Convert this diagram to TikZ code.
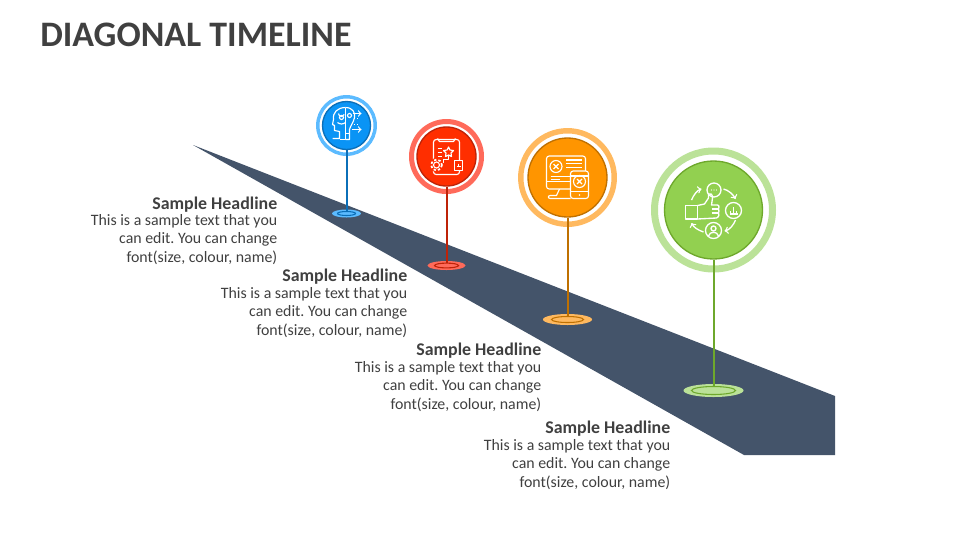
\documentclass[tikz,border=0pt]{standalone}
\usepackage{fontspec}
\setmainfont{Carlito}
\frenchspacing
\usetikzlibrary{shapes.geometric}
\definecolor{road}{HTML}{44546A}
\definecolor{ink}{HTML}{404040}
\definecolor{blueA}{HTML}{0A94F5}\definecolor{blueB}{HTML}{0B6FB8}\definecolor{blueC}{HTML}{5CBBFF}
\definecolor{redA}{HTML}{FF2E00}\definecolor{redB}{HTML}{BE2308}\definecolor{redC}{HTML}{FF6A5A}
\definecolor{orangeA}{HTML}{FF9500}\definecolor{orangeB}{HTML}{BF7000}\definecolor{orangeC}{HTML}{FFB95F}
\definecolor{greenA}{HTML}{92D050}\definecolor{greenB}{HTML}{6EA82C}\definecolor{greenC}{HTML}{BBE298}
\tikzset{
    headline/.style={anchor=east,inner sep=0pt,text=ink,font=\fontsize{13.4}{14}\selectfont\bfseries},
    blurb/.style={anchor=east,inner sep=0pt,text=ink,align=right,font=\fontsize{11.9}{14}\selectfont},
    halo/.style={circle,inner sep=0pt,draw=#1,fill=white},
    hub/.style={circle,inner sep=0pt,line width=1pt,draw=#1B,fill=#1A},
    pad/.style={ellipse,inner sep=0pt,fill=#1C},
    padcore/.style={ellipse,inner sep=0pt,line width=0.8pt,draw=#1B,fill=#1C},
    stem/.style={line width=1.5pt,draw=#1B,xshift=-0.5pt},
    icon/.style={white,line width=0.85pt,line join=round}
}
\begin{document}
\begin{tikzpicture}[x=0.75pt,y=-0.75pt,>=to]
    \useasboundingbox (0,0) rectangle (960,540);
    \node[anchor=west,inner sep=0pt,text=ink,font=\fontsize{26.9}{30}\selectfont\bfseries] (title) at (40,34.5) {DIAGONAL TIMELINE};
    % road
    \fill[road] (193,145)--(835,396)--(835,455)--(744,455)--cycle;
    % bases
    \node[pad=blue,minimum width=21.75pt,minimum height=6pt] (padA) at (346.5,213.5) {};
    \node[pad=red,minimum width=28.5pt,minimum height=6.75pt] (padB) at (446.5,265.5) {};
    \node[pad=orange,minimum width=36.75pt,minimum height=8.25pt] (padC) at (567.5,319.5) {};
    \node[pad=green,minimum width=45pt,minimum height=9.75pt] (padD) at (713.5,390.5) {};
    \node[padcore=blue,minimum width=13.5pt,minimum height=3pt] (coreA) at (padA) {};
    \node[padcore=red,minimum width=18pt,minimum height=3.6pt] (coreB) at (padB) {};
    \node[padcore=orange,minimum width=24pt,minimum height=4.5pt] (coreC) at (padC) {};
    \node[padcore=green,minimum width=33pt,minimum height=6pt] (coreD) at (padD) {};
    % rings
    \node[halo=blueC,line width=2.6pt,minimum size=43.1pt] (haloA) at (346.5,125.5) {};
    \node[halo=redC,line width=3.75pt,minimum size=52.5pt] (haloB) at (446.5,156.5) {};
    \node[halo=orangeC,line width=4.1pt,minimum size=70.1pt] (haloC) at (567.5,177.5) {};
    \node[halo=greenC,line width=5.25pt,minimum size=88.5pt] (haloD) at (713.5,210) {};
    \node[hub=blue,minimum size=36pt] (hubA) at (haloA) {};
    \node[hub=red,minimum size=44.25pt] (hubB) at (haloB) {};
    \node[hub=orange,minimum size=59.25pt] (hubC) at (haloC) {};
    \node[hub=green,minimum size=73.5pt] (hubD) at (haloD) {};
    % stems
    \draw[stem=blue] (hubA.south)--(coreA.north);
    \draw[stem=red] (hubB.south)--(coreB.north);
    \draw[stem=orange] (hubC.south)--(coreC.north);
    \draw[stem=green] (hubD.south)--(coreD.north);
    % first icon
    \begin{scope}[shift={(hubA.center)},icon]
        \draw (-1,-18) .. controls (-9,-18) and (-14,-13) .. (-13,-6)--(-14,-1)--(-12,0)--(-12,5)--(-7,6)--(-7,13)--(-14,13);
        \draw (-1,-18)--(-1,14)--(-7,14);
        \draw (-1,-18) .. controls (6,-18) and (9,-13) .. (8,-8) .. controls (7,-3) and (4,0) .. (3,4)--(3,14)--(-1,14);
        \draw (-1,8)--(3,8);
        \draw (-9,-3) .. controls (-6,-1) and (-4,-1) .. (-1,-3);
        \draw (-8,-12) arc (180:20:3);
        \draw (-5,-8) circle (2);
        \draw (3,-10) circle (2);
        \draw[->] (6,-12)--(15,-12);
        \draw[dotted] (7,-7)--(13,-7);
        \draw[dotted] (7,-1)--(13,-1);
        \draw[->] (5,4)--(15,4);
    \end{scope}
    % second icon
    \begin{scope}[shift={(hubB.center)},icon]
        \draw[rounded corners=2pt] (-13,-17) rectangle (13,18);
        \draw (-9,-18)--(-7,-15)--(7,-15)--(9,-18);
        \draw (-9,-8)--(-5,-8) (-9,-4)--(-5,-4) (-9,0)--(-5,0);
        \draw (2,-9.5)--(3.5,-6.5)--(7,-6)--(4.5,-3.5)--(5,0)--(2,-1.5)--(-1,0)--(-0.5,-3.5)--(-3,-6)--(0.5,-6.5)--cycle;
        \draw (2,-1)--(2,3)--(-3,3)--(-3,6);
        \fill[redA] (-10,8.5) circle (7);
        \draw (-10,8.5) circle (3);
        \draw[line width=1.3pt,dash pattern=on 1.8pt off 1.6pt] (-10,8.5) circle (5.5);
        \fill[redA] (8,4) rectangle (16,14);
        \draw (8,4) rectangle (16,14);
        \draw (10,10)--(14,10) (12,7)--(12,10);
    \end{scope}
    % third icon
    \begin{scope}[shift={(hubC.center)},icon]
        \draw[rounded corners=2pt] (-21,-21.5) rectangle (18,11.5);
        \draw (-21,4)--(3,4);
        \draw (-8,11.5)--(-11,18)--(-17,18) .. controls (-20,18) and (-20,21) .. (-17,21)--(3,21);
        \draw (-11.5,-11) circle (6);
        \draw (-14,-13.5)--(-9,-8.5) (-9,-13.5)--(-14,-8.5);
        \draw (-1.5,-17.5)--(14,-17.5) (-1.5,-14)--(14,-14) (-1.5,-10)--(14,-10);
        \draw (-17,-1)--(3,-1) (-17,2)--(-8,2);
        \draw[fill=orangeA,rounded corners=2pt] (3,-6.5) rectangle (21,21);
        \draw (3,-1.5)--(21,-1.5) (3,14)--(21,14);
        \draw (12,4) circle (6);
        \draw (9.5,1.5)--(14.5,6.5) (14.5,1.5)--(9.5,6.5);
        \fill[white] (12,17.5) circle (0.8);
    \end{scope}
    % fourth icon
    \begin{scope}[shift={(hubD.center)},icon,line width=1pt]
        \draw (-28,-4.5) rectangle (-16,9);
        \draw (-16,-4.5)--(-9,-6)--(-5,-12)--(-5,-16) .. controls (-3,-17) and (-1,-16) .. (-1,-12)--(-2,-5)--(4,-5) .. controls (6,-5) and (6,-1) .. (4,-1) .. controls (6,-1) and (6,3) .. (4,3) .. controls (6,3) and (6,7) .. (3,8)--(-16,9);
        \draw (-2,-1)--(4,-1) (-2,3)--(4,3);
        \draw (0.5,-20) circle (7);
        \fill[white] (-2,-20) circle (0.6) (0.5,-20) circle (0.6) (3,-20) circle (0.6);
        \draw (20,0.5) circle (8);
        \draw (16,4)--(24,4) (17,1)--(17,4) (20,-3)--(20,4) (23,1)--(23,4);
        \draw (0,20.5) circle (8);
        \draw (0,18.5) circle (2.5);
        \draw (-5,26) .. controls (-4,21) and (4,21) .. (5,26);
        \draw[->] (-22,-10) .. controls (-20,-15) and (-16,-20) .. (-12,-21);
        \draw[->] (10,-21) .. controls (15,-20) and (20,-15) .. (22,-11);
        \draw[->] (22,10) .. controls (20,15) and (16,20) .. (11,21);
        \draw[->] (-10,22) .. controls (-16,20) and (-20,17) .. (-22,13);
    \end{scope}
    % captions
    \node[headline] (headA) at (277.5,204.5) {Sample Headline};
    \node[blurb] (textA) at (277.5,239.5) {This is a sample text that you\\can edit. You can change\\font(size, colour, name)};
    \node[headline] (headB) at (407.5,276.5) {Sample Headline};
    \node[blurb] (textB) at (407.5,312.5) {This is a sample text that you\\can edit. You can change\\font(size, colour, name)};
    \node[headline] (headC) at (541.5,350.5) {Sample Headline};
    \node[blurb] (textC) at (541.5,386.5) {This is a sample text that you\\can edit. You can change\\font(size, colour, name)};
    \node[headline] (headD) at (670.5,428.5) {Sample Headline};
    \node[blurb] (textD) at (670.5,464.5) {This is a sample text that you\\can edit. You can change\\font(size, colour, name)};
\end{tikzpicture}
\end{document}
